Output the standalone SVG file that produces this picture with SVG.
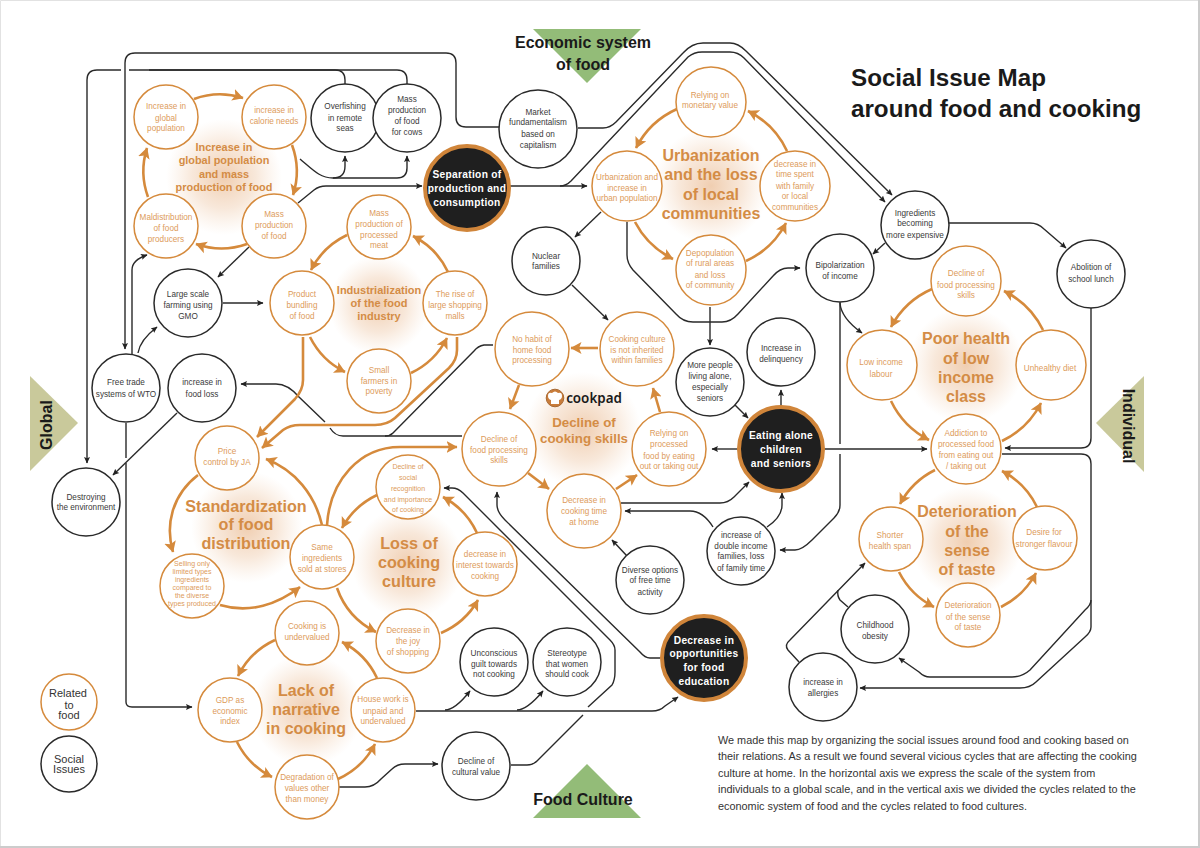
<svg xmlns="http://www.w3.org/2000/svg" width="1200" height="848" viewBox="0 0 1200 848">
<style>
text{font-family:"Liberation Sans",Arial,sans-serif;text-anchor:middle}
.c{fill:none;stroke:#2a2a2a;stroke-width:1.4;marker-end:url(#ab)}
.l{fill:none;stroke:#2a2a2a;stroke-width:1.4}
.o{fill:none;stroke:#d58a3c;stroke-width:2.6;marker-end:url(#ao)}
.no circle{fill:#fff;stroke:#d58a3c;stroke-width:1.5}
.nb circle{fill:#fff;stroke:#2a2a2a;stroke-width:1.5}
.nd circle{fill:#1f1f1f;stroke:#d0853a;stroke-width:4}
.no text{font-size:8.2px;fill:#dd9b5b}
.nb text{font-size:8.2px;fill:#3a3a3a}
.nd text{font-size:10.2px;font-weight:bold;fill:#fff;letter-spacing:.3px}
.no .s{font-size:7px}
.no .lg,.nb .lg{font-size:11px;fill:#333}
.t text{font-weight:bold;fill:#d48c45}
.ax{font-weight:bold;fill:#1a1a1a}
.p{font-size:10.87px;fill:#333;text-anchor:start}
</style>
<defs>
<marker id="ab" markerUnits="userSpaceOnUse" markerWidth="8" markerHeight="8" refX="6" refY="3.5" orient="auto"><path d="M0,0.5L6.5,3.5L0,6.5L1.2,3.5Z" fill="#222"/></marker>
<marker id="ao" markerUnits="userSpaceOnUse" markerWidth="14" markerHeight="14" refX="10.5" refY="6.5" orient="auto"><path d="M0,0.5L11,6.5L0,12.5L2.5,6.5Z" fill="#d58a3c"/></marker>
<radialGradient id="g"><stop offset="0" stop-color="#e6ad7c" stop-opacity=".6"/><stop offset=".55" stop-color="#e9b78c" stop-opacity=".32"/><stop offset="1" stop-color="#f0c8a4" stop-opacity="0"/></radialGradient>
</defs>
<rect width="1200" height="848" fill="#fff"/>
<path d="M0.5,848V0.5H1200" fill="none" stroke="#e2e2e2" stroke-width="1"/>
<path d="M1199,0V847H0" fill="none" stroke="#cccccc" stroke-width="2"/>
<g id="axes">
<polygon points="533,29 641,29 587,83" fill="#93bc78"/>
<polygon points="587,764 533,818 641,818" fill="#93bc78"/>
<polygon points="30,376 78,423 30,471" fill="#c9c99b"/>
<polygon points="1096,423 1144,376 1144,472" fill="#c9c99b"/>
</g>
<g id="glows">
<circle cx="224" cy="177" r="58" fill="url(#g)"/>
<circle cx="711" cy="186" r="58" fill="url(#g)"/>
<circle cx="966" cy="365" r="58" fill="url(#g)"/>
<circle cx="379" cy="305" r="50" fill="url(#g)"/>
<circle cx="247" cy="527" r="56" fill="url(#g)"/>
<circle cx="408" cy="563" r="56" fill="url(#g)"/>
<circle cx="307" cy="710" r="56" fill="url(#g)"/>
<circle cx="583" cy="430" r="58" fill="url(#g)"/>
<circle cx="967" cy="542" r="56" fill="url(#g)"/>
</g>
<g id="connectors">
<path class="c" d="M499,127H466Q456,127 456,117V63Q456,53 446,53H135Q125,53 125,63V349"/>
<path class="c" d="M121,70H97Q87,70 87,80V463"/>
<path class="l" d="M129,70H335Q345,70 345,80V84"/>
<path class="l" d="M149,70H397Q407,70 407,80V84"/>
<path class="c" d="M300,159C313,170 320,178 333,178Q345,178 345,166V156"/>
<path class="c" d="M333,178H397Q407,178 407,168V156"/>
<path class="c" d="M298,203L314,190Q319,186 326,186H422"/>
<path class="c" d="M249,247L218,277"/>
<path class="c" d="M223,303H263"/>
<path class="c" d="M132,355V270Q132,260 147,255"/>
<path class="c" d="M138,353Q140,340 157,327"/>
<path class="c" d="M126,423V702Q126,707 132,707H192" stroke-dasharray="35 5 400"/>
<path class="c" d="M177,413L113,475"/>
<path class="c" d="M510,186H587"/>
<path class="c" d="M578,128H603Q610,128 616,122L683,53Q692,43 703,43H730Q738,43 746,51L892,195"/>
<path class="c" d="M560,186Q566,186 571,181L688,57Q694,52 702,52H730Q738,52 744,58L885,202"/>
<path class="c" d="M601,212L575,237"/>
<path class="c" d="M572,285L608,320"/>
<path class="c" d="M627,222V255Q627,263 633,270L676,314Q683,322 693,322H722Q731,322 738,314L773,276Q780,268 788,268H800"/>
<path class="c" d="M710,307V345"/>
<path class="c" d="M885,243L873,254"/>
<path class="c" d="M949,223H1030Q1038,223 1044,229L1066,248"/>
<path class="c" d="M840,302V444M840,454V505Q840,512 834,518L812,540Q802,550 795,550H780"/>
<path class="c" d="M840,303Q841,318 862,333"/>
<path class="c" d="M1091,308V438Q1091,448 1081,448H1005"/>
<path class="c" d="M1002,454H1081Q1091,454 1091,464V627Q1091,632 1085,637L1036,682Q1030,688 1020,688H860"/>
<path class="c" d="M1091,600Q1091,605 1085,610L1030,670Q1022,677 1012,677H930Q924,677 919,672L899,658"/>
<path class="c" d="M799,662L788,650Q784,645 790,640L865,563"/>
<path class="l" d="M848,607L840,600Q837,596 838,590"/>
<path class="c" d="M822,449H927"/>
<path class="c" d="M738,449H712"/>
<path class="c" d="M781,408V390"/>
<path class="c" d="M735,405L748,418"/>
<path class="c" d="M621,503H720Q728,503 734,497L749,482"/>
<path class="c" d="M713,527Q703,511 690,511H625"/>
<path class="c" d="M767,527Q782,517 782,505V493"/>
<path class="c" d="M627,556L612,540"/>
<path class="l" d="M462,436H343Q335,436 330,428"/>
<path class="c" d="M325,422L299,397Q288,384 276,384H241"/>
<path class="l" d="M493,345H484Q478,346 474,351L393,433Q390,436 385,436"/>
<path class="c" d="M660,658H650Q645,658 640,652L505,520Q497,512 497,505V492"/>
<path class="c" d="M588,707L612,685Q615,680 615,672V650Q615,645 610,640L463,493Q458,488 452,488H444"/>
<path class="l" d="M583,715L537,761Q533,765 527,765H511"/>
<path class="c" d="M416,711H652Q660,711 665,706L678,697"/>
<path class="c" d="M445,710Q455,710 470,691"/>
<path class="c" d="M517,710Q527,710 543,691"/>
<path class="c" d="M339,787H365Q374,787 381,779L392,769Q397,764 405,764H438"/>
</g>
<g id="cycle-arrows">
<path class="o" d="M194,99A76,76 0 0 1 243,98"/>
<path class="o" d="M292,145A76,76 0 0 1 293,195"/>
<path class="o" d="M247,244A76,76 0 0 1 196,244"/>
<path class="o" d="M148,197A76,76 0 0 1 147,148"/>
<path class="o" d="M347,235A78,78 0 0 0 311,270"/>
<path class="o" d="M448,272A78,78 0 0 0 413,236"/>
<path class="o" d="M310,337A78,78 0 0 0 345,372"/>
<path class="o" d="M411,373A78,78 0 0 0 447,338"/>
<path class="o" d="M303,337V380Q303,390 295,399L257,437"/>
<path class="o" d="M457,337V350Q457,360 449,368L395,418Q387,425 375,425H300Q290,425 283,430L262,448"/>
<path class="o" d="M322,525C315,495 295,470 266,459"/>
<path class="o" d="M198,475C172,495 165,525 173,552"/>
<path class="o" d="M220,605C250,614 278,604 300,587"/>
<path class="o" d="M327,525C330,480 360,447 400,447H457"/>
<path class="o" d="M377,495A78,78 0 0 0 342,528"/>
<path class="o" d="M477,533A78,78 0 0 0 443,497"/>
<path class="o" d="M337,588A78,78 0 0 0 376,632"/>
<path class="o" d="M441,633A78,78 0 0 0 478,600"/>
<path class="o" d="M275,640A78,78 0 0 0 238,676"/>
<path class="o" d="M377,678A78,78 0 0 0 342,642"/>
<path class="o" d="M237,742A78,78 0 0 0 272,777"/>
<path class="o" d="M338,779A78,78 0 0 0 375,744"/>
<path class="o" d="M677,109A85,85 0 0 0 636,148"/>
<path class="o" d="M787,151A85,85 0 0 0 748,111"/>
<path class="o" d="M635,222A85,85 0 0 0 673,259"/>
<path class="o" d="M746,261A85,85 0 0 0 786,223"/>
<path class="o" d="M932,289A85,85 0 0 0 891,327"/>
<path class="o" d="M1043,330A85,85 0 0 0 1004,291"/>
<path class="o" d="M891,401A85,85 0 0 0 929,440"/>
<path class="o" d="M1002,441A85,85 0 0 0 1041,403"/>
<path class="o" d="M935,470A80,80 0 0 0 900,504"/>
<path class="o" d="M1037,507A80,80 0 0 0 1002,471"/>
<path class="o" d="M899,572A80,80 0 0 0 934,607"/>
<path class="o" d="M1001,607A80,80 0 0 0 1036,573"/>
<path class="o" d="M598,348H571"/>
<path class="o" d="M519,385L510,409"/>
<path class="o" d="M528,473L549,489"/>
<path class="o" d="M616,489L637,475"/>
<path class="o" d="M660,412L653,388"/>
</g>
<g id="n1" class="no"><circle cx="166" cy="117" r="32"/><text x="166" y="109">Increase in</text><text x="166" y="121">global</text><text x="166" y="131">population</text></g>
<g id="n2" class="no"><circle cx="274" cy="117" r="32"/><text x="274" y="113">increase in</text><text x="274" y="124">calorie needs</text></g>
<g id="n3" class="nb"><circle cx="345" cy="118" r="34"/><text x="345" y="109">Overfishing</text><text x="345" y="121">in remote</text><text x="345" y="131">seas</text></g>
<g id="n4" class="nb"><circle cx="407" cy="118" r="34"/><text x="407" y="102">Mass</text><text x="407" y="113">production</text><text x="407" y="124">of food</text><text x="407" y="135">for cows</text></g>
<g id="n5" class="no"><circle cx="166" cy="226" r="32"/><text x="166" y="220">Maldistribution</text><text x="166" y="231">of food</text><text x="166" y="242">producers</text></g>
<g id="n6" class="no"><circle cx="274" cy="226" r="32"/><text x="274" y="217">Mass</text><text x="274" y="228">production</text><text x="274" y="239">of food</text></g>
<g id="n7" class="no"><circle cx="379" cy="227" r="32"/><text x="379" y="216">Mass</text><text x="379" y="227">production of</text><text x="379" y="238">processed</text><text x="379" y="248">meat</text></g>
<g id="n8" class="nb"><circle cx="188" cy="303" r="34"/><text x="188" y="297">Large scale</text><text x="188" y="308">farming using</text><text x="188" y="319">GMO</text></g>
<g id="n9" class="no"><circle cx="302" cy="303" r="32"/><text x="302" y="297">Product</text><text x="302" y="308">bundling</text><text x="302" y="319">of food</text></g>
<g id="n10" class="no"><circle cx="455" cy="303" r="32"/><text x="455" y="297">The rise of</text><text x="455" y="308">large shopping</text><text x="455" y="319">malls</text></g>
<g id="n11" class="no"><circle cx="379" cy="381" r="32"/><text x="379" y="373">Small</text><text x="379" y="384">farmers in</text><text x="379" y="394">poverty</text></g>
<g id="n12" class="nb"><circle cx="126" cy="388" r="34"/><text x="126" y="385">Free trade</text><text x="126" y="397">systems of WTO</text></g>
<g id="n13" class="nb"><circle cx="202" cy="388" r="34"/><text x="202" y="385">increase in</text><text x="202" y="397">food loss</text></g>
<g id="n14" class="nb"><circle cx="86" cy="502" r="34"/><text x="86" y="500">Destroying</text><text x="86" y="510">the environment</text></g>
<g id="n15" class="no"><circle cx="227" cy="458" r="32"/><text x="227" y="454">Price</text><text x="227" y="465">control by JA</text></g>
<g id="n16" class="no"><circle cx="192" cy="586" r="32"/><text class="s" x="192" y="566">Selling only</text><text class="s" x="192" y="574">limited types</text><text class="s" x="192" y="582">ingredients</text><text class="s" x="192" y="590">compared to</text><text class="s" x="192" y="598">the diverse</text><text class="s" x="192" y="606">types produced</text></g>
<g id="n17" class="no"><circle cx="322" cy="557" r="32"/><text x="322" y="550">Same</text><text x="322" y="561">ingredients</text><text x="322" y="572">sold at stores</text></g>
<g id="n18" class="no"><circle cx="408" cy="487" r="32"/><text class="s" x="408" y="469">Decline of</text><text class="s" x="408" y="480">social</text><text class="s" x="408" y="491">recognition</text><text class="s" x="408" y="502">and importance</text><text class="s" x="408" y="512">of cooking</text></g>
<g id="n19" class="no"><circle cx="485" cy="564" r="32"/><text x="485" y="557">decrease in</text><text x="485" y="568">interest towards</text><text x="485" y="579">cooking</text></g>
<g id="n20" class="no"><circle cx="408" cy="641" r="32"/><text x="408" y="633">Decrease in</text><text x="408" y="644">the joy</text><text x="408" y="655">of shopping</text></g>
<g id="n21" class="no"><circle cx="307" cy="633" r="32"/><text x="307" y="629">Cooking is</text><text x="307" y="640">undervalued</text></g>
<g id="n22" class="no"><circle cx="230" cy="710" r="32"/><text x="230" y="703">GDP as</text><text x="230" y="714">economic</text><text x="230" y="724">index</text></g>
<g id="n23" class="no"><circle cx="383" cy="710" r="32"/><text x="383" y="702">House work is</text><text x="383" y="714">unpaid and</text><text x="383" y="724">undervalued</text></g>
<g id="n24" class="no"><circle cx="307" cy="787" r="32"/><text x="307" y="780">Degradation of</text><text x="307" y="791">values other</text><text x="307" y="802">than money</text></g>
<g id="legend-food" class="no"><circle cx="69" cy="702" r="28"/><text class="lg" x="68" y="697">Related</text><text class="lg" x="69" y="709">to</text><text class="lg" x="69" y="719">food</text></g>
<g id="legend-social" class="nb"><circle cx="69" cy="764" r="28"/><text class="lg" x="69" y="763">Social</text><text class="lg" x="69" y="773">Issues</text></g>
<g id="n25" class="nb"><circle cx="494" cy="662" r="34"/><text x="494" y="656">Unconscious</text><text x="494" y="667">guilt towards</text><text x="494" y="677">not cooking</text></g>
<g id="n26" class="nb"><circle cx="567" cy="662" r="34"/><text x="567" y="656">Stereotype</text><text x="567" y="667">that women</text><text x="567" y="677">should cook</text></g>
<g id="n27" class="nb"><circle cx="476" cy="766" r="34"/><text x="476" y="764">Decline of</text><text x="476" y="775">cultural value</text></g>
<g id="n28" class="nd"><circle cx="704" cy="658" r="42"/><text x="704" y="644">Decrease in</text><text x="704" y="657">opportunities</text><text x="704" y="671">for food</text><text x="704" y="685">education</text></g>
<g id="n29" class="nd"><circle cx="467" cy="188" r="42"/><text x="467" y="178">Separation of</text><text x="467" y="192">production and</text><text x="467" y="206">consumption</text></g>
<g id="n30" class="nb"><circle cx="538" cy="129" r="39"/><text x="538" y="115">Market</text><text x="538" y="125">fundamentalism</text><text x="538" y="137">based on</text><text x="538" y="148">capitalism</text></g>
<g id="n31" class="no"><circle cx="711" cy="102" r="35"/><text x="710" y="98">Relying on</text><text x="710" y="108">monetary value</text></g>
<g id="n32" class="no"><circle cx="627" cy="186" r="35"/><text x="627" y="180">Urbanization and</text><text x="627" y="191">increase in</text><text x="627" y="201">urban population</text></g>
<g id="n33" class="no"><circle cx="795" cy="186" r="35"/><text x="795" y="167">decrease in</text><text x="795" y="177">time spent</text><text x="795" y="189">with family</text><text x="795" y="199">or local</text><text x="795" y="210">communities</text></g>
<g id="n34" class="no"><circle cx="711" cy="270" r="35"/><text x="710" y="256">Depopulation</text><text x="710" y="266">of rural areas</text><text x="710" y="278">and loss</text><text x="710" y="288">of community</text></g>
<g id="n35" class="nb"><circle cx="546" cy="261" r="34"/><text x="546" y="259">Nuclear</text><text x="546" y="269">families</text></g>
<g id="n36" class="nb"><circle cx="840" cy="268" r="34"/><text x="840" y="268">Bipolarization</text><text x="840" y="279">of income</text></g>
<g id="n37" class="nb"><circle cx="915" cy="225" r="34"/><text x="915" y="216">Ingredients</text><text x="915" y="226">becoming</text><text x="915" y="238">more expensive</text></g>
<g id="n38" class="nb"><circle cx="1091" cy="274" r="34"/><text x="1091" y="270">Abolition of</text><text x="1091" y="282">school lunch</text></g>
<g id="n39" class="no"><circle cx="966" cy="281" r="35"/><text x="966" y="276">Decline of</text><text x="966" y="288">food processing</text><text x="966" y="298">skills</text></g>
<g id="n40" class="no"><circle cx="882" cy="365" r="35"/><text x="881" y="365">Low income</text><text x="881" y="377">labour</text></g>
<g id="n41" class="no"><circle cx="1051" cy="365" r="35"/><text x="1050" y="371">Unhealthy diet</text></g>
<g id="n42" class="no"><circle cx="966" cy="449" r="35"/><text x="966" y="436">Addiction to</text><text x="966" y="447">processed food</text><text x="966" y="458">from eating out</text><text x="966" y="469">/ taking out</text></g>
<g id="n43" class="no"><circle cx="891" cy="539" r="32"/><text x="890" y="538">Shorter</text><text x="890" y="549">health span</text></g>
<g id="n44" class="no"><circle cx="1045" cy="538" r="32"/><text x="1044" y="535">Desire for</text><text x="1044" y="547">stronger flavour</text></g>
<g id="n45" class="no"><circle cx="968" cy="615" r="32"/><text x="968" y="608">Deterioration</text><text x="968" y="620">of the sense</text><text x="968" y="630">of taste</text></g>
<g id="n46" class="nb"><circle cx="875" cy="629" r="34"/><text x="875" y="628">Childhood</text><text x="875" y="639">obesity</text></g>
<g id="n47" class="nb"><circle cx="823" cy="687" r="34"/><text x="823" y="685">increase in</text><text x="823" y="696">allergies</text></g>
<g id="n48" class="no"><circle cx="532" cy="349" r="37"/><text x="532" y="342">No habit of</text><text x="532" y="353">home food</text><text x="532" y="363">processing</text></g>
<g id="n49" class="no"><circle cx="637" cy="349" r="37"/><text x="637" y="342">Cooking culture</text><text x="637" y="353">is not inherited</text><text x="637" y="363">within families</text></g>
<g id="n50" class="no"><circle cx="499" cy="449" r="37"/><text x="499" y="442">Decline of</text><text x="499" y="453">food processing</text><text x="499" y="463">skills</text></g>
<g id="n51" class="no"><circle cx="584" cy="511" r="37"/><text x="584" y="503">Decrease in</text><text x="584" y="514">cooking time</text><text x="584" y="525">at home</text></g>
<g id="n52" class="no"><circle cx="669" cy="449" r="37"/><text x="669" y="436">Relying on</text><text x="669" y="447">processed</text><text x="669" y="459">food by eating</text><text x="669" y="469">out or taking out</text></g>
<g id="n53" class="nb"><circle cx="710" cy="382" r="34"/><text x="710" y="368">More people</text><text x="710" y="379">living alone,</text><text x="710" y="390">especially</text><text x="710" y="401">seniors</text></g>
<g id="n54" class="nb"><circle cx="781" cy="352" r="34"/><text x="781" y="351">Increase in</text><text x="781" y="362">delinquency</text></g>
<g id="n55" class="nd"><circle cx="781" cy="449" r="42"/><text x="781" y="439">Eating alone</text><text x="781" y="453">children</text><text x="781" y="467">and seniors</text></g>
<g id="n56" class="nb"><circle cx="741" cy="551" r="34"/><text x="741" y="538">increase of</text><text x="741" y="549">double income</text><text x="741" y="559">families, loss</text><text x="741" y="571">of family time</text></g>
<g id="n57" class="nb"><circle cx="650" cy="580" r="34"/><text x="650" y="573">Diverse options</text><text x="650" y="583">of free time</text><text x="650" y="595">activity</text></g>
<g id="cookpad">
<circle cx="555" cy="398" r="8.8" fill="#c97c3a" stroke="#a86a34" stroke-width="1"/>
<path d="M551,404V400Q548,399 548,396Q548,392 552,393Q555,390 558,393Q562,392 562,396Q562,399 559,400V404Z" fill="#fff"/>
<text x="594" y="403" style="font-size:13.4px;font-weight:600;fill:#1a1a1a;font-family:'Noto Sans','Liberation Sans',sans-serif">cookpad</text>
</g>
<g id="cycle-titles" class="t">
<text x="224" y="151" font-size="10.9">Increase in</text><text x="224" y="164" font-size="10.9">global population</text><text x="224" y="178" font-size="10.9">and mass</text><text x="224" y="191" font-size="10.9">production of food</text>
<text x="711" y="161" font-size="16">Urbanization</text><text x="711" y="180" font-size="16">and the loss</text><text x="711" y="200" font-size="16">of local</text><text x="711" y="219" font-size="16">communities</text>
<text x="966" y="344" font-size="16">Poor health</text><text x="966" y="364" font-size="16">of low</text><text x="966" y="383" font-size="16">income</text><text x="966" y="402" font-size="16">class</text>
<text x="379" y="294" font-size="11">Industrialization</text><text x="379" y="307" font-size="11">of the food</text><text x="379" y="320" font-size="11">industry</text>
<text x="246" y="512" font-size="16.2">Standardization</text><text x="246" y="530" font-size="16.2">of food</text><text x="246" y="549" font-size="16.2">distribution</text>
<text x="409" y="549" font-size="16.2">Loss of</text><text x="409" y="568" font-size="16.2">cooking</text><text x="409" y="587" font-size="16.2">culture</text>
<text x="306" y="696" font-size="16">Lack of</text><text x="306" y="715" font-size="16">narrative</text><text x="306" y="734" font-size="16">in cooking</text>
<text x="584" y="427" font-size="13.3">Decline of</text><text x="584" y="443" font-size="13.3">cooking skills</text>
<text x="967" y="517" font-size="16">Deterioration</text><text x="967" y="537" font-size="16">of the</text><text x="967" y="556" font-size="16">sense</text><text x="967" y="575" font-size="16">of taste</text>
</g>
<g id="labels">
<text class="ax" x="583" y="48" font-size="16">Economic system</text>
<text class="ax" x="583" y="70" font-size="16">of food</text>
<text class="ax" x="583" y="805" font-size="16">Food Culture</text>
<text class="ax" font-size="16" transform="translate(52,425) rotate(-90)">Global</text>
<text class="ax" font-size="16" transform="translate(1123,426) rotate(90)">Individual</text>
<text class="ax" x="851" y="86" font-size="24.2" style="text-anchor:start">Social Issue Map</text>
<text class="ax" x="851" y="117" font-size="24.2" style="text-anchor:start">around food and cooking</text>
<text class="p" x="718" y="744">We made this map by organizing the social issues around food and cooking based on</text>
<text class="p" x="718" y="760">their relations. As a result we found several vicious cycles that are affecting the cooking</text>
<text class="p" x="718" y="777">culture at home. In the horizontal axis we express the scale of the system from</text>
<text class="p" x="718" y="793">individuals to a global scale, and in the vertical axis we divided the cycles related to the</text>
<text class="p" x="718" y="810">economic system of food and the cycles related to food cultures.</text>
</g>
</svg>
